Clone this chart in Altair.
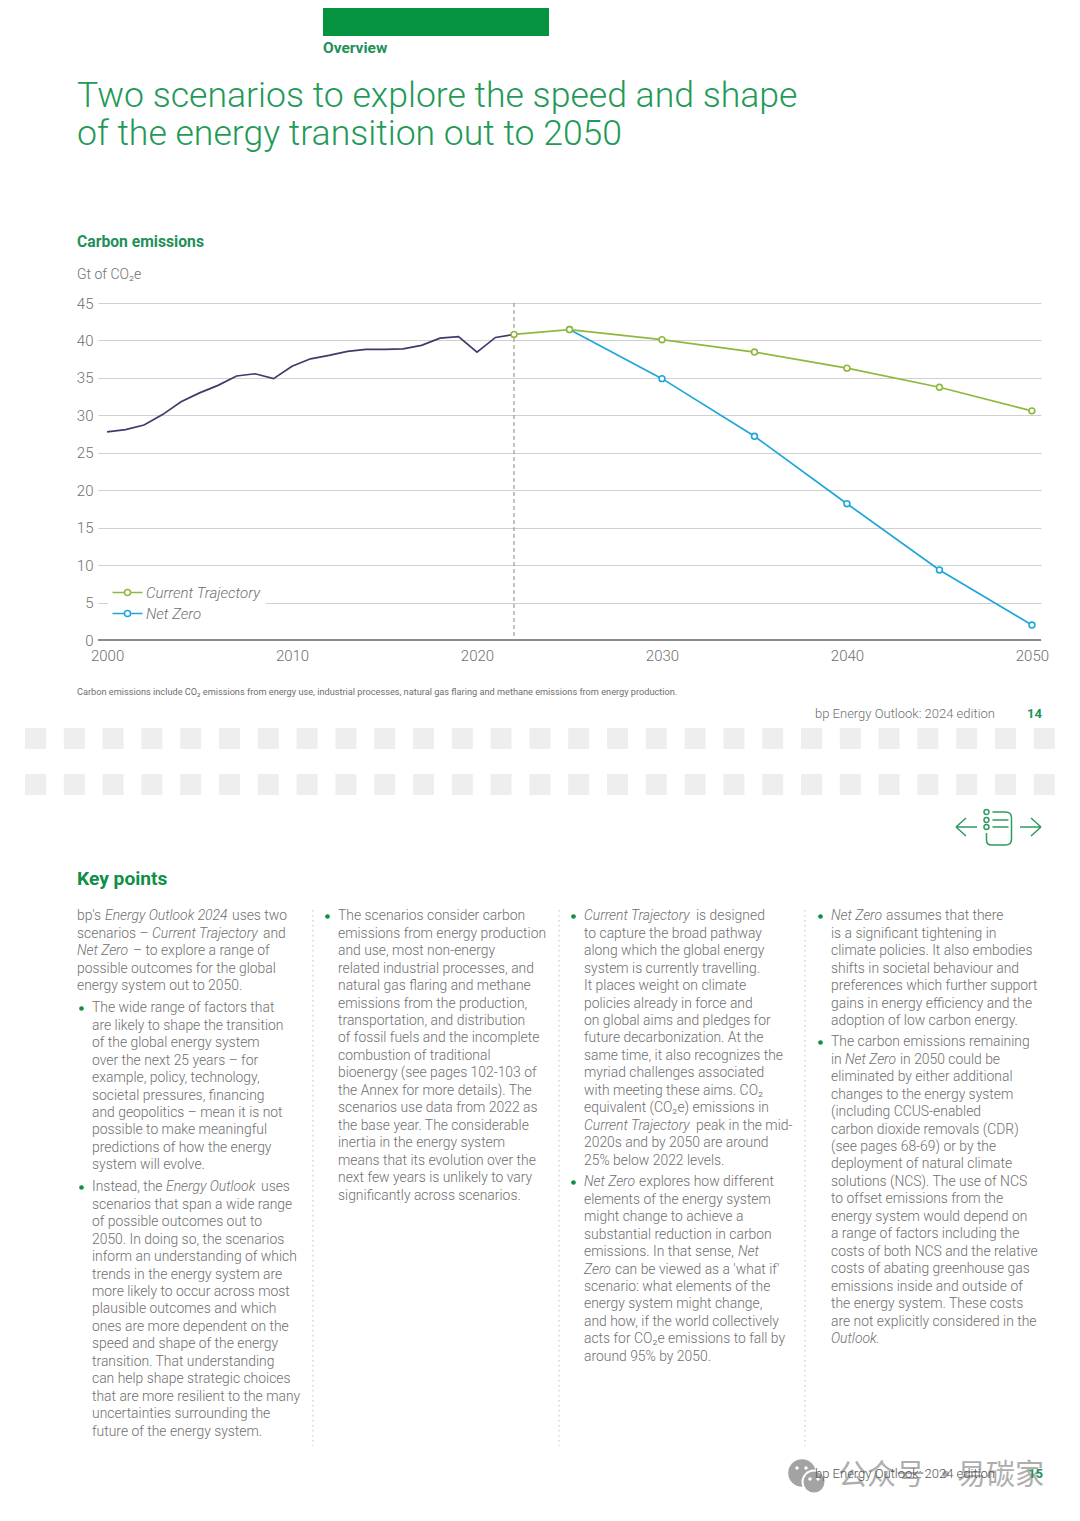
import altair as alt
import pandas as pd

# ---------- chart data ----------
HIST_YEARS = list(range(2000, 2023))
HIST_VALUES = [27.8, 28.1, 28.7, 30.1, 31.8, 33.0, 34.0, 35.25, 35.55, 34.9, 36.55, 37.55, 38.0, 38.55,
               38.8, 38.8, 38.87, 39.35, 40.3, 40.5, 38.45, 40.4, 40.8]
CT_YEARS = [2022, 2025, 2030, 2035, 2040, 2045, 2050]
CT_VALUES = [40.8, 41.45, 40.1, 38.45, 36.3, 33.75, 30.6]
NZ_YEARS = [2025, 2030, 2035, 2040, 2045, 2050]
NZ_VALUES = [41.45, 34.9, 27.2, 18.2, 9.35, 2.0]
BASE_YEAR = [2022]
Y_TICKS = [0, 5, 10, 15, 20, 25, 30, 35, 40, 45]
X_TICKS = [2000, 2010, 2020, 2030, 2040, 2050]
SERIES_NAMES = ["Current Trajectory", "Net Zero"]
SERIES_COLORS = ["#8fb83f", "#1fa6d9"]

# ---------- page text ----------
COL1_A = ["bp's *Energy Outlook 2024* uses two", "scenarios – *Current Trajectory* and",
          "*Net Zero* – to explore a range of", "possible outcomes for the global",
          "energy system out to 2050."]
COL1_B = ["The wide range of factors that", "are likely to shape the transition",
          "of the global energy system", "over the next 25 years – for",
          "example, policy, technology,", "societal pressures, financing",
          "and geopolitics – mean it is not", "possible to make meaningful",
          "predictions of how the energy", "system will evolve."]
COL1_C = ["Instead, the *Energy Outlook* uses", "scenarios that span a wide range",
          "of possible outcomes out to", "2050. In doing so, the scenarios",
          "inform an understanding of which", "trends in the energy system are",
          "more likely to occur across most", "plausible outcomes and which",
          "ones are more dependent on the", "speed and shape of the energy",
          "transition. That understanding", "can help shape strategic choices",
          "that are more resilient to the many", "uncertainties surrounding the",
          "future of the energy system."]
COL2_A = ["The scenarios consider carbon", "emissions from energy production",
          "and use, most non-energy", "related industrial processes, and",
          "natural gas flaring and methane", "emissions from the production,",
          "transportation, and distribution", "of fossil fuels and the incomplete",
          "combustion of traditional", "bioenergy (see pages 102-103 of",
          "the Annex for more details). The", "scenarios use data from 2022 as",
          "the base year. The considerable", "inertia in the energy system",
          "means that its evolution over the", "next few years is unlikely to vary",
          "significantly across scenarios."]
COL3_A = ["*Current Trajectory* is designed", "to capture the broad pathway",
          "along which the global energy", "system is currently travelling.",
          "It places weight on climate", "policies already in force and",
          "on global aims and pledges for", "future decarbonization. At the",
          "same time, it also recognizes the", "myriad challenges associated",
          "with meeting these aims. CO₂", "equivalent (CO₂e) emissions in",
          "*Current Trajectory* peak in the mid-", "2020s and by 2050 are around",
          "25% below 2022 levels."]
COL3_B = ["*Net Zero* explores how different", "elements of the energy system",
          "might change to achieve a", "substantial reduction in carbon",
          "emissions. In that sense, *Net*", "*Zero* can be viewed as a 'what if'",
          "scenario: what elements of the", "energy system might change,",
          "and how, if the world collectively", "acts for CO₂e emissions to fall by",
          "around 95% by 2050."]
COL4_A = ["*Net Zero* assumes that there", "is a significant tightening in",
          "climate policies. It also embodies", "shifts in societal behaviour and",
          "preferences which further support", "gains in energy efficiency and the",
          "adoption of low carbon energy."]
COL4_B = ["The carbon emissions remaining", "in *Net Zero* in 2050 could be",
          "eliminated by either additional", "changes to the energy system",
          "(including CCUS-enabled", "carbon dioxide removals (CDR)",
          "(see pages 68-69) or by the", "deployment of natural climate",
          "solutions (NCS). The use of NCS", "to offset emissions from the",
          "energy system would depend on", "a range of factors including the",
          "costs of both NCS and the relative", "costs of abating greenhouse gas",
          "emissions inside and outside of", "the energy system. These costs",
          "are not explicitly considered in the", "*Outlook.*"]

TITLE_LINES = ["Two scenarios to explore the speed and shape", "of the energy transition out to 2050"]
SECTION_TAG = "Overview"
CHART_TITLE = "Carbon emissions"
UNIT_LABEL = "Gt of CO₂e"
FOOTNOTE = ("Carbon emissions include CO₂ emissions from energy use, industrial processes, "
            "natural gas flaring and methane emissions from energy production.")
FOOTER = "bp Energy Outlook: 2024 edition"
KEY_POINTS = "Key points"
WATERMARK = ["公众号", "·", "易碳家"]

# ---------- layout ----------
PX0, PY0 = 98, 303
PLOT_W, PLOT_H = 943, 337
BODY_STEP = 17.45
BODY_FONT = "Roboto"
GREY = "#6f6f6f"
GREEN = "#1f9a58"

# page x of the pieces of lines that mix upright and italic text
RUN_STARTS = {
    COL1_A[0]: [77, 105, 232], COL1_A[1]: [77, 152, 263], COL1_A[2]: [77, 133],
    COL1_C[0]: [92, 166, 261],
    COL3_A[0]: [584, 696], COL3_A[12]: [584, 696],
    COL3_B[0]: [584, 639], COL3_B[4]: [584, 738], COL3_B[5]: [584, 615],
    COL4_A[0]: [831, 886], COL4_B[1]: [831, 845, 900],
}
BLOCKS = [(77, 916, COL1_A, False), (92, 1008, COL1_B, True), (92, 1187, COL1_C, True),
          (338, 916, COL2_A, True), (584, 916, COL3_A, True), (584, 1182, COL3_B, True),
          (831, 916, COL4_A, True), (831, 1042, COL4_B, True)]


def gx(p):
    return p - PX0


def gy(p):
    return p - PY0


plain, slanted, bullets = [], [], []
for x0, y0, lines, has_bullet in BLOCKS:
    if has_bullet:
        bullets.append({"x": gx(x0 - 10.5), "y": gy(y0 + 0.5)})
    for i, line in enumerate(lines):
        y = gy(y0 + 0.3 + i * BODY_STEP)
        parts = [p.strip() for p in line.split("*")]
        starts = RUN_STARTS.get(line, [x0])
        if len(parts) > 1 and parts[0] == "":
            parts, italic = parts[1:], True
        else:
            italic = False
        parts = [p for p in parts if p != ""]
        for part, sx in zip(parts, starts):
            (slanted if italic else plain).append({"t": part, "x": gx(sx), "y": y})
            italic = not italic


def px(field):
    return alt.X(field + ":Q", scale=None, axis=None)


def py(field):
    return alt.Y(field + ":Q", scale=None, axis=None)


def text_layer(rows, size, color, weight=300, style="normal", font=BODY_FONT, opacity=1.0, align="left"):
    return alt.Chart(pd.DataFrame(rows)).mark_text(
        align=align, baseline="middle", fontSize=size, font=font, fontWeight=weight,
        fontStyle=style, color=color, opacity=opacity
    ).encode(x=px("x"), y=py("y"), text="t:N")


def box_layer(rows, color):
    return alt.Chart(pd.DataFrame(rows)).mark_rect(color=color).encode(
        x=px("x"), x2="x2:Q", y=py("y"), y2="y2:Q")


def dot_layer(rows, color, size):
    return alt.Chart(pd.DataFrame(rows)).mark_point(
        filled=True, color=color, size=size, opacity=1, shape="circle"
    ).encode(x=px("x"), y=py("y"))


banner = box_layer([{"x": gx(323), "x2": gx(549), "y": gy(0), "y2": gy(36)}], "#05933f")
squares = box_layer(
    [{"x": gx(25 + i * 38.8), "x2": gx(46 + i * 38.8), "y": gy(ry), "y2": gy(ry + 21)}
     for ry in (728, 774) for i in range(27)], "#eeeeee")

separators = alt.Chart(pd.DataFrame({"x": [gx(313), gx(559), gx(805)], "y": [gy(910)] * 3, "y2": [gy(1446)] * 3})
                       ).mark_rule(color="#cfcfcf", strokeWidth=1.3, strokeDash=[1.5, 3.5]).encode(
    x=px("x"), y=py("y"), y2="y2:Q")

icon_path = ("M-42.5,-1H-21.5 M-42.5,-1L-32.5,-10 M-42.5,-1L-32.5,8 "
             "M21.5,-1H42.5 M42.5,-1L32.5,-10 M42.5,-1L32.5,8 "
             "M-6,-16H7Q13,-16 13,-10V11Q13,17 7,17H-7Q-12,17 -12,12V5 "
             "M-6,-8H10 M-6,-1H10 "
             "M-9.5,-16A2.5,2.5 0 1 1 -14.5,-16A2.5,2.5 0 1 1 -9.5,-16 "
             "M-9.5,-8A2.5,2.5 0 1 1 -14.5,-8A2.5,2.5 0 1 1 -9.5,-8 "
             "M-9.5,-1A2.5,2.5 0 1 1 -14.5,-1A2.5,2.5 0 1 1 -9.5,-1")
icon = alt.Chart(pd.DataFrame([{"x": gx(998.5), "y": gy(828)}])).mark_point(
    shape=icon_path, size=4, filled=False, color="#2f9a62", strokeWidth=1.5, opacity=1
).encode(x=px("x"), y=py("y"))

wechat = [
    dot_layer([{"x": gx(802), "y": gy(1473)}], "#a3a3a3", 760),
    dot_layer([{"x": gx(814), "y": gy(1482)}], "#ffffff", 620),
    dot_layer([{"x": gx(814), "y": gy(1482)}], "#a3a3a3", 440),
    dot_layer([{"x": gx(797), "y": gy(1468)}, {"x": gx(806), "y": gy(1468)},
               {"x": gx(810), "y": gy(1479)}, {"x": gx(818), "y": gy(1479)}], "#ffffff", 12),
]

page = [
    banner, squares, separators, icon,
    text_layer([{"t": SECTION_TAG, "x": gx(323), "y": gy(47.5)}], 15.5, "#23905a", weight=700),
    text_layer([{"t": TITLE_LINES[0], "x": gx(77), "y": gy(96)},
                {"t": TITLE_LINES[1], "x": gx(77), "y": gy(134)}], 35.6, GREEN),
    text_layer([{"t": CHART_TITLE, "x": gx(77), "y": gy(242)}], 15.7, "#23905a", weight=700),
    text_layer([{"t": UNIT_LABEL, "x": gx(77), "y": gy(275)}], 14, GREY),
    text_layer([{"t": FOOTNOTE, "x": gx(77), "y": gy(691.5)}], 9.2, GREY, weight=400),
    text_layer([{"t": FOOTER, "x": gx(815), "y": gy(713.5)}], 13, GREY),
    text_layer([{"t": "14", "x": gx(1027), "y": gy(713.5)}], 13, "#23905a", weight=700),
    text_layer([{"t": KEY_POINTS, "x": gx(77), "y": gy(879)}], 19.2, "#0f8f48", weight=700),
    text_layer(plain, 13.9, GREY),
    text_layer(slanted, 13.9, GREY, style="italic"),
    dot_layer(bullets, "#0f8f48", 22),
    *wechat,
    text_layer([{"t": WATERMARK[0], "x": gx(838), "y": gy(1476)},
                {"t": WATERMARK[1], "x": gx(931), "y": gy(1476)},
                {"t": WATERMARK[2], "x": gx(957), "y": gy(1476)}], 29, "#a0a0a0", weight=400,
               font="Noto Sans CJK SC", opacity=0.85),
    text_layer([{"t": FOOTER, "x": gx(815), "y": gy(1474)}], 13, "#555555"),
    text_layer([{"t": "15", "x": gx(1028), "y": gy(1474)}], 13, "#23905a", weight=700),
]

# ---------- the chart itself ----------
x_scale = alt.Scale(domain=[1999.51, 2050.49], nice=False, zero=False)
y_scale = alt.Scale(domain=[0, 45], nice=False)
x_axis = alt.Axis(values=X_TICKS, format="d", title=None, grid=False, domain=False, ticks=False,
                  labelFont=BODY_FONT, labelFontWeight=300, labelFontSize=15, labelColor=GREY,
                  labelPadding=8, labelFlush=False)
y_axis = alt.Axis(values=Y_TICKS, title=None, grid=True, gridColor="#d0d0d0", gridWidth=1, domain=False,
                  ticks=False, labelFont=BODY_FONT, labelFontWeight=300, labelFontSize=15,
                  labelColor=GREY, labelPadding=5)

X = alt.X("year:Q", scale=x_scale, axis=x_axis)
Y = alt.Y("value:Q", scale=y_scale, axis=y_axis)

hist_df = pd.DataFrame({"year": HIST_YEARS, "value": HIST_VALUES})
ct_df = pd.DataFrame({"year": CT_YEARS, "value": CT_VALUES, "series": SERIES_NAMES[0]})
nz_df = pd.DataFrame({"year": NZ_YEARS, "value": NZ_VALUES, "series": SERIES_NAMES[1]})

legend_symbol = "M-15,0H-3 M3,0H15 M3,0A3,3 0 1 1 -3,0A3,3 0 1 1 3,0"
color = alt.Color(
    "series:N",
    scale=alt.Scale(domain=SERIES_NAMES, range=SERIES_COLORS),
    legend=alt.Legend(orient="none", legendX=10, legendY=277, title=None, fillColor="white", padding=5,
                      symbolType=legend_symbol, symbolSize=4, symbolStrokeWidth=1.5, symbolOffset=7,
                      labelOffset=11, labelFont=BODY_FONT, labelFontStyle="italic", labelFontWeight=300,
                      labelFontSize=15, labelColor=GREY, rowPadding=5),
)


def series_layers(df):
    return [
        alt.Chart(df).mark_line(strokeWidth=1.7).encode(x=X, y=Y, color=color),
        alt.Chart(df).mark_point(filled=True, fill="white", size=34, strokeWidth=1.6, opacity=1).encode(
            x=X, y=Y, stroke=alt.Stroke("series:N", scale=alt.Scale(domain=SERIES_NAMES, range=SERIES_COLORS),
                                        legend=None)),
    ]


zero_line = alt.Chart(pd.DataFrame({"value": [0]})).mark_rule(color="#8a8a8a", strokeWidth=2).encode(
    y=alt.Y("value:Q", scale=y_scale, axis=y_axis))
base_line = alt.Chart(pd.DataFrame({"year": BASE_YEAR})).mark_rule(
    color="#9a9a9a", strokeWidth=1.2, strokeDash=[4, 3]).encode(x=alt.X("year:Q", scale=x_scale, axis=x_axis))
hist_line = alt.Chart(hist_df).mark_line(color="#3f3a6b", strokeWidth=1.7).encode(x=X, y=Y)

main = alt.layer(zero_line, base_line, hist_line, *series_layers(nz_df), *series_layers(ct_df))

chart = (
    alt.layer(*page, main)
    .resolve_scale(x="independent", y="independent", color="independent")
    .properties(
        width=PLOT_W, height=PLOT_H,
        autosize=alt.AutoSizeParams(type="none"),
        padding={"left": PX0 - 8, "top": PY0 - 8, "right": 31, "bottom": 865},
        background="white",
    )
    .configure_view(stroke=None)
)

chart.save("out.html", embed_options={"renderer": "svg", "actions": False})
